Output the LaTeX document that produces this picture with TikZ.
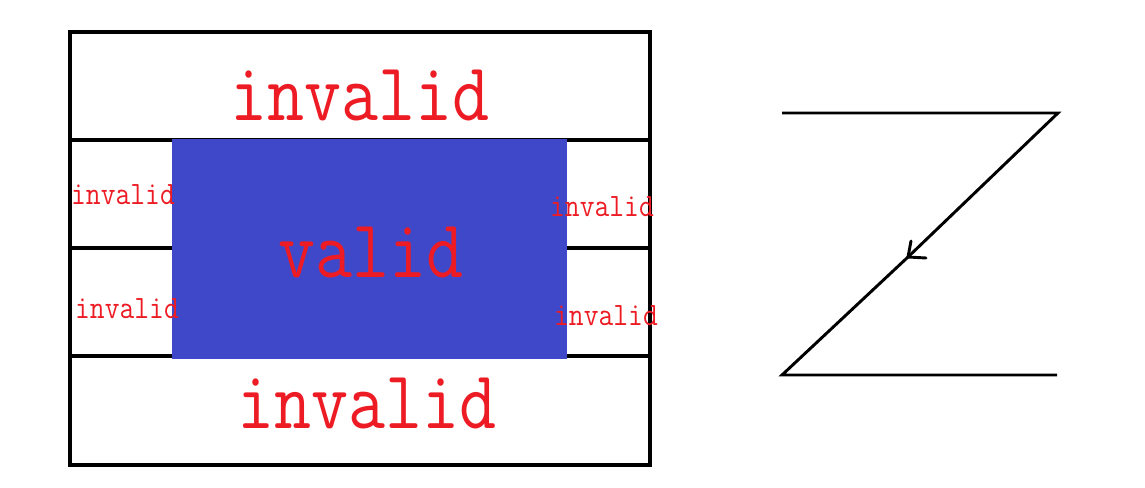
\documentclass[tikz,border=0pt]{standalone}
\usepackage{fontspec}
\definecolor{inred}{RGB}{237,28,36}
\definecolor{vblue}{RGB}{64,72,202}
\tikzset{
  frame/.style={line width=2.4pt, black},
  zline/.style={line width=2.2pt, black},
  bigtxt/.style={inred, anchor=base, inner sep=0pt, font=\ttfamily\fontsize{62}{64}\selectfont},
  smalltxt/.style={inred, anchor=base, inner sep=0pt, font=\ttfamily\fontsize{24.5}{26}\selectfont},
}
\newcommand{\sqb}[1]{\scalebox{0.87}[1]{#1}}
\newcommand{\sqs}[1]{\scalebox{0.88}[1]{#1}}
\begin{document}
\begin{tikzpicture}[x=0.75pt,y=-0.75pt]
\useasboundingbox (0,0) rectangle (1145,488);
% outer frame and rows
\draw[frame] (70,32) rectangle (650,465);
\draw[frame] (70,140) -- (650,140);
\draw[frame] (70,248) -- (650,248);
\draw[frame] (70,356) -- (650,356);
% valid region
\fill[vblue] (172,139) rectangle (567,359);
% labels
\node[bigtxt] (top) at (360,121) {\sqb{invalid}};
\node[bigtxt] (bot) at (367,428) {\sqb{invalid}};
\node[bigtxt] (val) at (371,277) {\sqb{valid}};
\node[smalltxt] (l1) at (123,205) {\sqs{invalid}};
\node[smalltxt] (l2) at (127,318) {\sqs{invalid}};
\node[smalltxt] (r1) at (602,217) {\sqs{invalid}};
\node[smalltxt] (r2) at (606,325) {\sqs{invalid}};
% Z shape
\coordinate (z1) at (782,113);
\coordinate (z2) at (1058,113);
\coordinate (zm) at (908,257);
\coordinate (z3) at (782,375);
\coordinate (z4) at (1057,375);
\draw[zline] (z1) -- (z2) -- (zm);
\draw[zline] (zm) -- (z3) -- (z4);
\draw[zline, line cap=round] (911,241) -- (zm) -- (926,258);
\end{tikzpicture}
\end{document}
